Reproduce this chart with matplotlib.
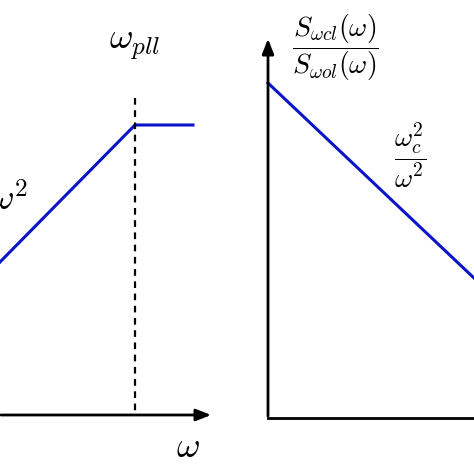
import matplotlib.pyplot as plt

plt.rcParams['mathtext.fontset'] = 'cm'

# left panel: open-loop noise (pixel-like coordinates)
left_x = [0, 135, 193]
left_y = [262, 125, 125]
pll_x = 135

# right panel: closed/open ratio
right_x = [268, 474]
right_y = [83, 278]

fig = plt.figure(figsize=(4.74, 4.74), dpi=100)
ax = fig.add_axes([0, 0, 1, 1])
ax.set_xlim(0, 474)
ax.set_ylim(474, 0)
ax.axis('off')

blue = '#0a14c8'
ax.plot(left_x, left_y, color=blue, lw=2.2)
ax.plot(right_x, right_y, color=blue, lw=2.2)
ax.plot([pll_x, pll_x], [98, 415], color='black', lw=1.6, ls=(0, (3, 2.5)))

arrow = dict(arrowstyle='-|>,head_length=0.9,head_width=0.35', color='black', lw=2)
ax.annotate('', xy=(214, 415), xytext=(-2, 415), arrowprops=arrow)
ax.annotate('', xy=(268, 36), xytext=(268, 419), arrowprops=arrow)
ax.plot([268, 474], [418, 418], color='black', lw=2)

ax.text(pll_x, 45, r'$\omega_{pll}$', fontsize=26, ha='center', va='center')
# partially clipped at the left edge, as in the reference
ax.text(28, 200, r'$\omega^2$', fontsize=26, ha='right', va='center')
ax.text(188, 447, r'$\omega$', fontsize=26, ha='center', va='center')
ax.text(335, 48, r'$\dfrac{S_{\omega cl}(\omega)}{S_{\omega ol}(\omega)}$', fontsize=20,
        ha='center', va='center')
ax.text(410, 155, r'$\dfrac{\omega_c^2}{\omega^2}$', fontsize=20, ha='center', va='center')

fig.savefig('out.png', dpi=100)
